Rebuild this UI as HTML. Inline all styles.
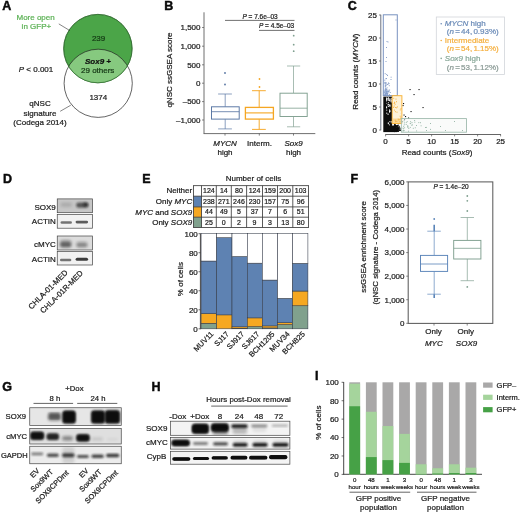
<!DOCTYPE html>
<html><head><meta charset="utf-8"><title>Figure</title>
<style>html,body{margin:0;padding:0;background:#fff}svg{display:block}text{font-family:"Liberation Sans",Arial,sans-serif}</style>
</head><body>
<svg width="520" height="513" viewBox="0 0 520 513">
<defs>
<filter id="b0" x="-20%" y="-50%" width="140%" height="200%"><feGaussianBlur stdDeviation="0.55"/></filter>
<filter id="b1" x="-20%" y="-50%" width="140%" height="200%"><feGaussianBlur stdDeviation="0.85"/></filter>
<filter id="b2" x="-30%" y="-80%" width="160%" height="260%"><feGaussianBlur stdDeviation="1.5"/></filter>
</defs>
<rect width="520" height="513" fill="#fff"/>
<text x="2.3" y="10" font-size="12.5" font-weight="bold" fill="#0a0a0a" stroke="#0a0a0a" stroke-width="0.45">A</text>
<circle cx="98.2" cy="83.3" r="34.1" fill="#fff" stroke="#222" stroke-width="0.7"/>
<circle cx="97.9" cy="48.6" r="34.2" fill="#4ba548" stroke="#2f6b2e" stroke-width="0.7"/>
<clipPath id="cA"><circle cx="97.9" cy="48.6" r="34.2"/></clipPath>
<circle cx="98.2" cy="83.3" r="34.1" fill="#86c97f" stroke="#222" stroke-width="0.7" clip-path="url(#cA)"/>
<circle cx="97.9" cy="48.6" r="34.2" fill="none" stroke="#2f6b2e" stroke-width="0.7"/>
<text x="98.6" y="40.5" font-size="8" text-anchor="middle" fill="#143a14" stroke="#143a14" stroke-width="0.22" >239</text>
<text x="98" y="63.8" font-size="8" text-anchor="middle" fill="#111" stroke="#111" stroke-width="0.22" font-weight="bold" font-style="italic">Sox9 +</text>
<text x="97.7" y="73.2" font-size="8" text-anchor="middle" fill="#143614" stroke="#143614" stroke-width="0.22" >29 others</text>
<text x="98.3" y="100" font-size="8" text-anchor="middle" fill="#1c1c1c" stroke="#1c1c1c" stroke-width="0.22" >1374</text>
<text x="35.6" y="19.7" font-size="8" text-anchor="middle" fill="#5cb255" stroke="#5cb255" stroke-width="0.22" >More open</text>
<text x="36.4" y="29.4" font-size="8" text-anchor="middle" fill="#5cb255" stroke="#5cb255" stroke-width="0.22" >in GFP+</text>
<text x="36" y="72" font-size="8" text-anchor="middle" fill="#1c1c1c" stroke="#1c1c1c" stroke-width="0.22" ><tspan font-style="italic">P</tspan> &lt; 0.001</text>
<text x="40" y="106" font-size="8" text-anchor="middle" fill="#1c1c1c" stroke="#1c1c1c" stroke-width="0.22" >qNSC</text>
<text x="40" y="115.5" font-size="8" text-anchor="middle" fill="#1c1c1c" stroke="#1c1c1c" stroke-width="0.22" >signature</text>
<text x="40" y="124.6" font-size="8" text-anchor="middle" fill="#1c1c1c" stroke="#1c1c1c" stroke-width="0.22" >(Codega 2014)</text>
<line x1="58.8" y1="23.9" x2="70" y2="30.7" stroke="#333" stroke-width="0.6" />
<line x1="60.2" y1="111.3" x2="70.8" y2="105.2" stroke="#333" stroke-width="0.6" />
<text x="164.2" y="9.7" font-size="12.5" font-weight="bold" fill="#0a0a0a" stroke="#0a0a0a" stroke-width="0.45">B</text>
<line x1="204" y1="12.3" x2="204" y2="133.6" stroke="#4a4a4a" stroke-width="0.8" />
<line x1="203.6" y1="133.6" x2="315.3" y2="133.6" stroke="#4a4a4a" stroke-width="0.8" />
<line x1="225" y1="133.6" x2="225" y2="135.6" stroke="#4a4a4a" stroke-width="0.7" />
<line x1="259.3" y1="133.6" x2="259.3" y2="135.6" stroke="#4a4a4a" stroke-width="0.7" />
<line x1="293.5" y1="133.6" x2="293.5" y2="135.6" stroke="#4a4a4a" stroke-width="0.7" />
<text x="200.5" y="30.3" font-size="8" text-anchor="end" fill="#1c1c1c" stroke="#1c1c1c" stroke-width="0.22" >1,500</text>
<line x1="202" y1="27.5" x2="204" y2="27.5" stroke="#555" stroke-width="0.7" />
<text x="200.5" y="49.0" font-size="8" text-anchor="end" fill="#1c1c1c" stroke="#1c1c1c" stroke-width="0.22" >1,000</text>
<line x1="202" y1="46.2" x2="204" y2="46.2" stroke="#555" stroke-width="0.7" />
<text x="200.5" y="67.6" font-size="8" text-anchor="end" fill="#1c1c1c" stroke="#1c1c1c" stroke-width="0.22" >500</text>
<line x1="202" y1="64.8" x2="204" y2="64.8" stroke="#555" stroke-width="0.7" />
<text x="200.5" y="86.0" font-size="8" text-anchor="end" fill="#1c1c1c" stroke="#1c1c1c" stroke-width="0.22" >0</text>
<line x1="202" y1="83.2" x2="204" y2="83.2" stroke="#555" stroke-width="0.7" />
<text x="200.5" y="104.39999999999999" font-size="8" text-anchor="end" fill="#1c1c1c" stroke="#1c1c1c" stroke-width="0.22" >–500</text>
<line x1="202" y1="101.6" x2="204" y2="101.6" stroke="#555" stroke-width="0.7" />
<text x="200.5" y="122.8" font-size="8" text-anchor="end" fill="#1c1c1c" stroke="#1c1c1c" stroke-width="0.22" >–1,000</text>
<line x1="202" y1="120" x2="204" y2="120" stroke="#555" stroke-width="0.7" />
<text x="171.5" y="70" font-size="8" text-anchor="middle" fill="#1c1c1c" stroke="#1c1c1c" stroke-width="0.22" transform="rotate(-90 171.5 70)" >qNSC ssGSEA score</text>
<line x1="225" y1="20.4" x2="294.5" y2="20.4" stroke="#333" stroke-width="0.7" />
<line x1="259" y1="30.4" x2="294.5" y2="30.4" stroke="#333" stroke-width="0.7" />
<text x="260" y="18.7" font-size="6.5" text-anchor="middle" fill="#1c1c1c" stroke="#1c1c1c" stroke-width="0.22" ><tspan font-style="italic">P</tspan> = 7.6e–03</text>
<text x="276.6" y="28.4" font-size="6.5" text-anchor="middle" fill="#1c1c1c" stroke="#1c1c1c" stroke-width="0.22" ><tspan font-style="italic">P</tspan> = 4.5e–03</text>
<line x1="225.2" y1="94" x2="225.2" y2="106.8" stroke="#5674a2" stroke-width="0.6839999999999999" />
<line x1="225.2" y1="119.1" x2="225.2" y2="128.9" stroke="#5674a2" stroke-width="0.6839999999999999" />
<line x1="218.1" y1="94" x2="231.9" y2="94" stroke="#5674a2" stroke-width="0.6839999999999999" />
<line x1="218.1" y1="128.9" x2="231.9" y2="128.9" stroke="#5674a2" stroke-width="0.6839999999999999" />
<rect x="211.50" y="106.80" width="27.70" height="12.30" fill="#fff" stroke="#5674a2" stroke-width="0.95" />
<line x1="211.5" y1="111.7" x2="239.2" y2="111.7" stroke="#5674a2" stroke-width="0.8075" />
<line x1="259.2" y1="90.7" x2="259.2" y2="107.4" stroke="#f5a623" stroke-width="0.9359999999999999" />
<line x1="259.2" y1="119.1" x2="259.2" y2="129.4" stroke="#f5a623" stroke-width="0.9359999999999999" />
<line x1="252" y1="90.7" x2="265.8" y2="90.7" stroke="#f5a623" stroke-width="0.9359999999999999" />
<line x1="252" y1="129.4" x2="265.8" y2="129.4" stroke="#f5a623" stroke-width="0.9359999999999999" />
<rect x="245.40" y="107.40" width="28.00" height="11.70" fill="#fff" stroke="#f5a623" stroke-width="1.3" />
<line x1="245.4" y1="112.9" x2="273.4" y2="112.9" stroke="#f5a623" stroke-width="1.105" />
<line x1="293.5" y1="66" x2="293.5" y2="93.2" stroke="#7f9f8f" stroke-width="0.6839999999999999" />
<line x1="293.5" y1="116.5" x2="293.5" y2="126.8" stroke="#7f9f8f" stroke-width="0.6839999999999999" />
<line x1="287" y1="66" x2="300.2" y2="66" stroke="#7f9f8f" stroke-width="0.6839999999999999" />
<line x1="287" y1="126.8" x2="300.2" y2="126.8" stroke="#7f9f8f" stroke-width="0.6839999999999999" />
<rect x="280.00" y="93.20" width="27.20" height="23.30" fill="#fff" stroke="#7f9f8f" stroke-width="0.95" />
<line x1="280" y1="108.2" x2="307.2" y2="108.2" stroke="#7f9f8f" stroke-width="0.8075" />
<circle cx="225" cy="73" r="0.9" fill="#5674a2"/>
<circle cx="225" cy="84.5" r="0.9" fill="#5674a2"/>
<circle cx="259.5" cy="79" r="0.9" fill="#f5a623"/>
<circle cx="259.5" cy="87" r="0.9" fill="#f5a623"/>
<circle cx="293.7" cy="35.7" r="0.9" fill="#7f9f8f"/>
<circle cx="293.7" cy="44.7" r="0.9" fill="#7f9f8f"/>
<circle cx="293.7" cy="51.2" r="0.9" fill="#7f9f8f"/>
<text x="225" y="145.5" font-size="8" text-anchor="middle" fill="#1c1c1c" stroke="#1c1c1c" stroke-width="0.22" ><tspan font-style="italic">MYCN</tspan></text>
<text x="225" y="154.5" font-size="8" text-anchor="middle" fill="#1c1c1c" stroke="#1c1c1c" stroke-width="0.22" >high</text>
<text x="259.5" y="145.5" font-size="8" text-anchor="middle" fill="#1c1c1c" stroke="#1c1c1c" stroke-width="0.22" >Interm.</text>
<text x="293.5" y="145.5" font-size="8" text-anchor="middle" fill="#1c1c1c" stroke="#1c1c1c" stroke-width="0.22" ><tspan font-style="italic">Sox9</tspan></text>
<text x="293.5" y="154.5" font-size="8" text-anchor="middle" fill="#1c1c1c" stroke="#1c1c1c" stroke-width="0.22" >high</text>
<text x="347.8" y="9.9" font-size="12.5" font-weight="bold" fill="#0a0a0a" stroke="#0a0a0a" stroke-width="0.45">C</text>
<line x1="380.8" y1="14.7" x2="380.8" y2="130.3" stroke="#5a6270" stroke-width="0.9" />
<line x1="385.3" y1="134.5" x2="500.9" y2="134.5" stroke="#555" stroke-width="0.9" />
<text x="377" y="132.8" font-size="8" text-anchor="end" fill="#1c1c1c" stroke="#1c1c1c" stroke-width="0.22" >0</text>
<line x1="379" y1="130.0" x2="380.8" y2="130.0" stroke="#555" stroke-width="0.7" />
<text x="385.6" y="144" font-size="8" text-anchor="middle" fill="#1c1c1c" stroke="#1c1c1c" stroke-width="0.22" >0</text>
<line x1="385.6" y1="134.5" x2="385.6" y2="136.4" stroke="#555" stroke-width="0.7" />
<text x="377" y="109.8" font-size="8" text-anchor="end" fill="#1c1c1c" stroke="#1c1c1c" stroke-width="0.22" >5</text>
<line x1="379" y1="107.0" x2="380.8" y2="107.0" stroke="#555" stroke-width="0.7" />
<text x="408.6" y="144" font-size="8" text-anchor="middle" fill="#1c1c1c" stroke="#1c1c1c" stroke-width="0.22" >5</text>
<line x1="408.6" y1="134.5" x2="408.6" y2="136.4" stroke="#555" stroke-width="0.7" />
<text x="377" y="86.8" font-size="8" text-anchor="end" fill="#1c1c1c" stroke="#1c1c1c" stroke-width="0.22" >10</text>
<line x1="379" y1="84.0" x2="380.8" y2="84.0" stroke="#555" stroke-width="0.7" />
<text x="431.6" y="144" font-size="8" text-anchor="middle" fill="#1c1c1c" stroke="#1c1c1c" stroke-width="0.22" >10</text>
<line x1="431.6" y1="134.5" x2="431.6" y2="136.4" stroke="#555" stroke-width="0.7" />
<text x="377" y="63.8" font-size="8" text-anchor="end" fill="#1c1c1c" stroke="#1c1c1c" stroke-width="0.22" >15</text>
<line x1="379" y1="61.0" x2="380.8" y2="61.0" stroke="#555" stroke-width="0.7" />
<text x="454.6" y="144" font-size="8" text-anchor="middle" fill="#1c1c1c" stroke="#1c1c1c" stroke-width="0.22" >15</text>
<line x1="454.6" y1="134.5" x2="454.6" y2="136.4" stroke="#555" stroke-width="0.7" />
<text x="377" y="40.8" font-size="8" text-anchor="end" fill="#1c1c1c" stroke="#1c1c1c" stroke-width="0.22" >20</text>
<line x1="379" y1="38.0" x2="380.8" y2="38.0" stroke="#555" stroke-width="0.7" />
<text x="477.6" y="144" font-size="8" text-anchor="middle" fill="#1c1c1c" stroke="#1c1c1c" stroke-width="0.22" >20</text>
<line x1="477.6" y1="134.5" x2="477.6" y2="136.4" stroke="#555" stroke-width="0.7" />
<text x="377" y="17.800000000000015" font-size="8" text-anchor="end" fill="#1c1c1c" stroke="#1c1c1c" stroke-width="0.22" >25</text>
<line x1="379" y1="15.000000000000014" x2="380.8" y2="15.000000000000014" stroke="#555" stroke-width="0.7" />
<text x="500.6" y="144" font-size="8" text-anchor="middle" fill="#1c1c1c" stroke="#1c1c1c" stroke-width="0.22" >25</text>
<line x1="500.6" y1="134.5" x2="500.6" y2="136.4" stroke="#555" stroke-width="0.7" />
<text x="358.2" y="71.6" font-size="8" text-anchor="middle" fill="#1c1c1c" stroke="#1c1c1c" stroke-width="0.22" transform="rotate(-90 358.2 71.6)" >Read counts (<tspan font-style="italic">MYCN</tspan>)</text>
<text x="437" y="154.6" font-size="8" text-anchor="middle" fill="#1c1c1c" stroke="#1c1c1c" stroke-width="0.22" >Read counts (<tspan font-style="italic">Sox9</tspan>)</text>
<g fill="#0d0d0d">
<rect x="383.30" y="96.60" width="8.80" height="35.50" fill="#0d0d0d" stroke="none" stroke-width="0.8" />
<rect x="392.8" y="129.1" width="1.2" height="1.2"/>
<rect x="392.7" y="129.8" width="1.2" height="1.2"/>
<rect x="395.1" y="130.1" width="1.2" height="1.2"/>
<rect x="395.7" y="129.4" width="1.2" height="1.2"/>
<rect x="395.4" y="130.0" width="1.2" height="1.2"/>
<rect x="393.3" y="130.2" width="1.2" height="1.2"/>
<rect x="397.5" y="127.8" width="1.2" height="1.2"/>
<rect x="393.7" y="129.1" width="1.2" height="1.2"/>
<rect x="397.6" y="124.6" width="1.2" height="1.2"/>
<rect x="394.9" y="129.2" width="1.2" height="1.2"/>
<rect x="393.0" y="130.7" width="1.2" height="1.2"/>
<rect x="393.7" y="128.6" width="1.2" height="1.2"/>
<rect x="393.0" y="129.5" width="1.2" height="1.2"/>
<rect x="394.2" y="124.7" width="1.2" height="1.2"/>
<rect x="393.8" y="126.6" width="1.2" height="1.2"/>
<rect x="394.0" y="128.2" width="1.2" height="1.2"/>
<rect x="393.1" y="130.5" width="1.2" height="1.2"/>
<rect x="394.1" y="130.0" width="1.2" height="1.2"/>
<rect x="393.5" y="127.5" width="1.2" height="1.2"/>
<rect x="393.7" y="126.5" width="1.2" height="1.2"/>
<rect x="394.7" y="130.0" width="1.2" height="1.2"/>
<rect x="393.4" y="125.5" width="1.2" height="1.2"/>
<rect x="392.2" y="126.2" width="1.2" height="1.2"/>
<rect x="398.6" y="129.7" width="1.2" height="1.2"/>
<rect x="392.4" y="128.0" width="1.2" height="1.2"/>
<rect x="393.6" y="130.7" width="1.2" height="1.2"/>
<rect x="396.8" y="127.9" width="1.2" height="1.2"/>
<rect x="394.2" y="127.5" width="1.2" height="1.2"/>
<rect x="396.8" y="129.6" width="1.2" height="1.2"/>
<rect x="392.4" y="126.2" width="1.2" height="1.2"/>
<rect x="394.0" y="128.7" width="1.2" height="1.2"/>
<rect x="393.5" y="126.3" width="1.2" height="1.2"/>
<rect x="395.2" y="129.0" width="1.2" height="1.2"/>
<rect x="396.8" y="130.0" width="1.2" height="1.2"/>
<rect x="396.8" y="128.8" width="1.2" height="1.2"/>
<rect x="393.2" y="128.2" width="1.2" height="1.2"/>
<rect x="395.7" y="127.4" width="1.2" height="1.2"/>
<rect x="395.6" y="130.3" width="1.2" height="1.2"/>
<rect x="392.8" y="129.3" width="1.2" height="1.2"/>
<rect x="397.3" y="128.7" width="1.2" height="1.2"/>
<rect x="393.7" y="128.9" width="1.2" height="1.2"/>
<rect x="397.2" y="126.3" width="1.2" height="1.2"/>
<rect x="395.2" y="129.0" width="1.2" height="1.2"/>
<rect x="398.5" y="128.6" width="1.2" height="1.2"/>
<rect x="394.8" y="124.4" width="1.2" height="1.2"/>
<rect x="392.6" y="127.2" width="1.2" height="1.2"/>
<rect x="396.3" y="125.1" width="1.2" height="1.2"/>
<rect x="393.8" y="130.4" width="1.2" height="1.2"/>
<rect x="393.1" y="128.6" width="1.2" height="1.2"/>
<rect x="392.4" y="126.8" width="1.2" height="1.2"/>
<rect x="394.2" y="129.4" width="1.2" height="1.2"/>
<rect x="395.4" y="130.8" width="1.2" height="1.2"/>
<rect x="394.9" y="127.5" width="1.2" height="1.2"/>
<rect x="396.8" y="129.3" width="1.2" height="1.2"/>
<rect x="396.6" y="130.4" width="1.2" height="1.2"/>
<rect x="392.5" y="129.8" width="1.2" height="1.2"/>
<rect x="396.6" y="127.2" width="1.2" height="1.2"/>
<rect x="396.2" y="126.3" width="1.2" height="1.2"/>
<rect x="394.6" y="128.6" width="1.2" height="1.2"/>
<rect x="395.7" y="127.8" width="1.2" height="1.2"/>
<rect x="393.1" y="130.4" width="1.2" height="1.2"/>
<rect x="392.5" y="128.8" width="1.2" height="1.2"/>
<rect x="392.6" y="129.9" width="1.2" height="1.2"/>
<rect x="393.9" y="130.9" width="1.2" height="1.2"/>
<rect x="394.5" y="128.9" width="1.2" height="1.2"/>
<rect x="398.6" y="129.7" width="1.2" height="1.2"/>
<rect x="393.4" y="129.6" width="1.2" height="1.2"/>
<rect x="392.0" y="127.6" width="1.2" height="1.2"/>
<rect x="393.1" y="129.5" width="1.2" height="1.2"/>
<rect x="395.7" y="130.0" width="1.2" height="1.2"/>
<rect x="393.3" y="130.0" width="1.2" height="1.2"/>
<rect x="393.4" y="128.5" width="1.2" height="1.2"/>
<rect x="392.9" y="129.0" width="1.2" height="1.2"/>
<rect x="393.8" y="130.5" width="1.2" height="1.2"/>
<rect x="392.7" y="130.7" width="1.2" height="1.2"/>
<rect x="395.3" y="126.7" width="1.2" height="1.2"/>
<rect x="392.2" y="127.5" width="1.2" height="1.2"/>
<rect x="394.8" y="125.5" width="1.2" height="1.2"/>
<rect x="397.6" y="129.6" width="1.2" height="1.2"/>
<rect x="393.1" y="128.7" width="1.2" height="1.2"/>
<rect x="395.6" y="125.7" width="1.2" height="1.2"/>
<rect x="394.3" y="125.5" width="1.2" height="1.2"/>
<rect x="392.6" y="126.6" width="1.2" height="1.2"/>
<rect x="392.5" y="130.2" width="1.2" height="1.2"/>
<rect x="394.6" y="130.4" width="1.2" height="1.2"/>
<rect x="392.3" y="125.4" width="1.2" height="1.2"/>
<rect x="395.5" y="129.8" width="1.2" height="1.2"/>
<rect x="395.0" y="129.9" width="1.2" height="1.2"/>
<rect x="392.4" y="128.4" width="1.2" height="1.2"/>
<rect x="392.7" y="128.6" width="1.2" height="1.2"/>
<rect x="397.0" y="125.5" width="1.2" height="1.2"/>
<rect x="394.0" y="127.4" width="1.2" height="1.2"/>
<rect x="395.4" y="125.6" width="1.2" height="1.2"/>
<rect x="396.2" y="128.2" width="1.2" height="1.2"/>
<rect x="396.9" y="127.5" width="1.2" height="1.2"/>
<rect x="392.0" y="126.8" width="1.2" height="1.2"/>
<rect x="394.5" y="125.2" width="1.2" height="1.2"/>
<rect x="394.9" y="125.3" width="1.2" height="1.2"/>
<rect x="395.3" y="130.3" width="1.2" height="1.2"/>
<rect x="398.5" y="125.8" width="1.2" height="1.2"/>
<rect x="392.3" y="128.7" width="1.2" height="1.2"/>
<rect x="393.3" y="129.4" width="1.2" height="1.2"/>
<rect x="396.9" y="127.2" width="1.2" height="1.2"/>
<rect x="395.7" y="125.5" width="1.2" height="1.2"/>
<rect x="396.8" y="130.2" width="1.2" height="1.2"/>
<rect x="394.5" y="127.2" width="1.2" height="1.2"/>
<rect x="392.4" y="130.5" width="1.2" height="1.2"/>
<rect x="396.7" y="130.0" width="1.2" height="1.2"/>
<rect x="399.6" y="129.5" width="1.2" height="1.2"/>
<rect x="398.1" y="128.0" width="1.2" height="1.2"/>
<rect x="393.0" y="128.7" width="1.2" height="1.2"/>
<rect x="392.0" y="127.9" width="1.2" height="1.2"/>
<rect x="392.3" y="126.1" width="1.2" height="1.2"/>
<rect x="392.2" y="127.2" width="1.2" height="1.2"/>
<rect x="396.9" y="125.1" width="1.2" height="1.2"/>
<rect x="394.2" y="127.7" width="1.2" height="1.2"/>
<rect x="398.2" y="127.0" width="1.2" height="1.2"/>
<rect x="398.5" y="127.1" width="1.2" height="1.2"/>
<rect x="396.1" y="130.9" width="1.2" height="1.2"/>
<rect x="392.6" y="130.8" width="1.2" height="1.2"/>
<rect x="394.0" y="130.1" width="1.2" height="1.2"/>
<rect x="397.9" y="130.7" width="1.2" height="1.2"/>
<rect x="393.8" y="127.3" width="1.2" height="1.2"/>
<rect x="392.7" y="126.4" width="1.2" height="1.2"/>
<rect x="393.8" y="127.0" width="1.2" height="1.2"/>
<rect x="397.4" y="128.7" width="1.2" height="1.2"/>
<rect x="395.3" y="128.0" width="1.2" height="1.2"/>
<rect x="392.0" y="128.0" width="1.2" height="1.2"/>
<rect x="392.5" y="126.7" width="1.2" height="1.2"/>
<rect x="397.2" y="128.6" width="1.2" height="1.2"/>
<rect x="395.0" y="128.9" width="1.2" height="1.2"/>
<rect x="395.0" y="128.1" width="1.2" height="1.2"/>
<rect x="397.1" y="130.5" width="1.2" height="1.2"/>
<rect x="395.9" y="129.6" width="1.2" height="1.2"/>
<rect x="399.8" y="129.7" width="1.2" height="1.2"/>
<rect x="394.1" y="123.9" width="1.2" height="1.2"/>
<rect x="394.4" y="129.9" width="1.2" height="1.2"/>
<rect x="399.4" y="127.7" width="1.2" height="1.2"/>
<rect x="393.0" y="129.2" width="1.2" height="1.2"/>
<rect x="394.6" y="128.2" width="1.2" height="1.2"/>
<rect x="394.2" y="129.7" width="1.2" height="1.2"/>
<rect x="396.4" y="128.5" width="1.2" height="1.2"/>
<rect x="392.00" y="126.50" width="4.20" height="5.60" fill="#0d0d0d" stroke="none" stroke-width="0.8" />
<rect x="403" y="103" width="1.1" height="1.1"/>
<rect x="409.5" y="89" width="1.1" height="1.1"/>
<rect x="418.5" y="89" width="1.1" height="1.1"/>
<rect x="413.5" y="94" width="1.1" height="1.1"/>
<rect x="422.5" y="107" width="1.1" height="1.1"/>
<rect x="410.5" y="111" width="1.1" height="1.1"/>
<rect x="405" y="116" width="1.1" height="1.1"/>
<rect x="400" y="113" width="1.1" height="1.1"/>
<rect x="401.5" y="121" width="1.1" height="1.1"/>
<rect x="404" y="119" width="1.1" height="1.1"/>
<rect x="402.5" y="105" width="1.1" height="1.1"/>
<rect x="408" y="117.5" width="1.1" height="1.1"/>
<rect x="400.5" y="116.5" width="1.1" height="1.1"/>
<rect x="403.5" y="114.5" width="1.1" height="1.1"/>
</g>
<g fill="#fff">
<rect x="388.0" y="104.1" width="0.9" height="0.9"/>
<rect x="388.0" y="106.0" width="0.9" height="0.9"/>
<rect x="387.7" y="99.9" width="0.9" height="1.0"/>
<rect x="390.6" y="100.5" width="0.9" height="1.3"/>
<rect x="386.1" y="106.9" width="0.9" height="1.1"/>
<rect x="386.2" y="107.0" width="0.9" height="1.5"/>
<rect x="386.4" y="98.1" width="0.9" height="1.3"/>
<rect x="386.0" y="100.6" width="0.9" height="0.8"/>
<rect x="387.9" y="122.8" width="0.9" height="1.4"/>
<rect x="389.3" y="111.1" width="0.9" height="1.1"/>
<rect x="389.1" y="100.3" width="0.9" height="0.7"/>
<rect x="387.8" y="122.4" width="0.9" height="1.2"/>
<rect x="389.1" y="109.4" width="0.9" height="1.4"/>
<rect x="386.1" y="98.3" width="0.9" height="1.5"/>
<rect x="390.9" y="98.3" width="0.9" height="0.9"/>
<rect x="387.6" y="104.1" width="0.9" height="1.5"/>
<rect x="389.1" y="124.4" width="0.9" height="0.9"/>
<rect x="389.4" y="105.0" width="0.9" height="1.1"/>
<rect x="387.7" y="98.6" width="0.9" height="1.3"/>
<rect x="389.1" y="111.1" width="0.9" height="1.5"/>
<rect x="390.6" y="98.6" width="0.9" height="1.1"/>
<rect x="390.8" y="121.1" width="0.9" height="1.5"/>
<rect x="389.4" y="104.2" width="0.9" height="1.5"/>
<rect x="389.2" y="111.3" width="0.9" height="0.8"/>
<rect x="389.5" y="110.1" width="0.9" height="1.4"/>
<rect x="386.0" y="97.5" width="0.9" height="0.8"/>
<rect x="386.3" y="106.2" width="0.9" height="1.0"/>
<rect x="389.3" y="98.3" width="0.9" height="0.8"/>
<rect x="389.3" y="100.4" width="0.9" height="0.9"/>
<rect x="389.5" y="105.6" width="0.9" height="1.5"/>
<rect x="389.2" y="99.6" width="0.9" height="0.8"/>
<rect x="389.3" y="111.0" width="0.9" height="0.9"/>
<rect x="386.0" y="99.3" width="0.9" height="1.4"/>
<rect x="387.8" y="99.5" width="0.9" height="0.9"/>
<rect x="387.6" y="97.7" width="0.9" height="1.5"/>
<rect x="387.9" y="102.2" width="0.9" height="1.0"/>
<rect x="389.4" y="121.1" width="0.9" height="1.1"/>
<rect x="389.4" y="99.2" width="0.9" height="1.4"/>
<rect x="390.8" y="99.8" width="0.9" height="1.3"/>
<rect x="388.0" y="97.3" width="0.9" height="1.4"/>
<rect x="386.3" y="112.6" width="0.9" height="1.2"/>
<rect x="387.6" y="113.5" width="0.9" height="1.5"/>
<rect x="390.8" y="101.4" width="0.9" height="1.1"/>
<rect x="386.3" y="102.9" width="0.9" height="0.7"/>
<rect x="386.3" y="109.6" width="0.9" height="1.1"/>
</g>
<rect x="383.60" y="90.50" width="4.60" height="5.00" fill="#a9c0e6" stroke="none" stroke-width="0" opacity="0.85"/>
<g fill="#7892c0" opacity="0.85">
<rect x="387.4" y="92.4" width="1" height="1"/>
<rect x="387.6" y="89.7" width="1" height="1"/>
<rect x="384.3" y="91.9" width="1" height="1"/>
<rect x="384.6" y="82.1" width="1" height="1"/>
<rect x="385.3" y="82.4" width="1" height="1"/>
<rect x="386.8" y="93.6" width="1" height="1"/>
<rect x="386.2" y="88.9" width="1" height="1"/>
<rect x="385.8" y="82.5" width="1" height="1"/>
<rect x="386.6" y="87.3" width="1" height="1"/>
<rect x="385.4" y="92.9" width="1" height="1"/>
<rect x="384.4" y="81.8" width="1" height="1"/>
<rect x="385.3" y="85.2" width="1" height="1"/>
<rect x="385.1" y="94.8" width="1" height="1"/>
<rect x="384.7" y="83.1" width="1" height="1"/>
<rect x="385.5" y="83.8" width="1" height="1"/>
<rect x="385.0" y="85.7" width="1" height="1"/>
<rect x="386.7" y="93.0" width="1" height="1"/>
<rect x="387.7" y="83.5" width="1" height="1"/>
<rect x="386.2" y="74.0" width="1" height="1"/>
<rect x="384.7" y="94.4" width="1" height="1"/>
<rect x="388.2" y="91.2" width="1" height="1"/>
<rect x="386.7" y="93.3" width="1" height="1"/>
<rect x="384.5" y="89.5" width="1" height="1"/>
<rect x="385.7" y="93.2" width="1" height="1"/>
<rect x="385.4" y="92.8" width="1" height="1"/>
<rect x="389.7" y="92.0" width="1" height="1"/>
<rect x="387.0" y="84.0" width="1" height="1"/>
<rect x="388.9" y="94.1" width="1" height="1"/>
<rect x="384.8" y="89.4" width="1" height="1"/>
<rect x="386.3" y="89.5" width="1" height="1"/>
<rect x="384.5" y="94.9" width="1" height="1"/>
<rect x="386.7" y="94.5" width="1" height="1"/>
<rect x="384.7" y="90.8" width="1" height="1"/>
<rect x="385.4" y="89.2" width="1" height="1"/>
<rect x="384.4" y="94.6" width="1" height="1"/>
<rect x="384.3" y="79.7" width="1" height="1"/>
<rect x="388.0" y="82.5" width="1" height="1"/>
<rect x="385.4" y="78.2" width="1" height="1"/>
<rect x="384.8" y="87.5" width="1" height="1"/>
<rect x="390.6" y="76.7" width="1" height="1"/>
<rect x="386.1" y="91.0" width="1" height="1"/>
<rect x="385.9" y="92.2" width="1" height="1"/>
<rect x="385.3" y="93.9" width="1" height="1"/>
<rect x="385.2" y="89.3" width="1" height="1"/>
<rect x="385.8" y="92.6" width="1" height="1"/>
<rect x="384.6" y="85.5" width="1" height="1"/>
<rect x="385.1" y="87.8" width="1" height="1"/>
<rect x="388.7" y="90.5" width="1" height="1"/>
<rect x="385.5" y="84.6" width="1" height="1"/>
<rect x="388.8" y="85.2" width="1" height="1"/>
<rect x="387.6" y="91.1" width="1" height="1"/>
<rect x="387.7" y="91.0" width="1" height="1"/>
<rect x="387.8" y="90.9" width="1" height="1"/>
<rect x="385.4" y="89.8" width="1" height="1"/>
<rect x="389.1" y="89.5" width="1" height="1"/>
<rect x="386.0" y="88.5" width="1" height="1"/>
<rect x="385.3" y="89.4" width="1" height="1"/>
<rect x="384.7" y="73.2" width="1" height="1"/>
<rect x="384.5" y="83.3" width="1" height="1"/>
<rect x="385.2" y="85.3" width="1" height="1"/>
<rect x="395.5" y="19.5" width="1" height="1"/>
<rect x="386.5" y="41" width="1" height="1"/>
<rect x="387.5" y="41.5" width="1" height="1"/>
<rect x="386" y="47" width="1" height="1"/>
<rect x="386" y="57" width="1" height="1"/>
<rect x="385.5" y="61" width="1" height="1"/>
<rect x="390.5" y="79" width="1" height="1"/>
<rect x="387" y="75" width="1" height="1"/>
<rect x="386" y="78" width="1" height="1"/>
<rect x="388.5" y="83" width="1" height="1"/>
</g>
<rect x="383.30" y="14.80" width="14.00" height="80.80" fill="none" stroke="#7892c0" stroke-width="1.0" />
<rect x="392.20" y="95.70" width="9.70" height="27.80" fill="#fef2d9" stroke="#f8b236" stroke-width="0.95" fill-opacity="0.96"/>
<rect x="392.70" y="118.50" width="8.70" height="4.60" fill="#f9c566" stroke="none" stroke-width="0" opacity="0.55"/>
<g fill="#f5a623" opacity="0.8">
<rect x="396.0" y="101.2" width="1" height="1"/>
<rect x="394.2" y="102.2" width="1" height="1"/>
<rect x="399.8" y="109.4" width="1" height="1"/>
<rect x="394.7" y="119.7" width="1" height="1"/>
<rect x="400.5" y="108.2" width="1" height="1"/>
<rect x="394.0" y="101.8" width="1" height="1"/>
<rect x="393.7" y="105.5" width="1" height="1"/>
<rect x="393.7" y="103.0" width="1" height="1"/>
<rect x="394.9" y="111.2" width="1" height="1"/>
<rect x="399.7" y="115.7" width="1" height="1"/>
<rect x="396.1" y="107.3" width="1" height="1"/>
<rect x="396.9" y="106.4" width="1" height="1"/>
<rect x="395.5" y="98.6" width="1" height="1"/>
<rect x="395.1" y="121.2" width="1" height="1"/>
<rect x="393.9" y="109.6" width="1" height="1"/>
<rect x="397.7" y="118.6" width="1" height="1"/>
<rect x="394.6" y="103.8" width="1" height="1"/>
<rect x="394.9" y="107.0" width="1" height="1"/>
<rect x="396.3" y="120.8" width="1" height="1"/>
<rect x="399.4" y="118.8" width="1" height="1"/>
<rect x="393.2" y="97.8" width="1" height="1"/>
<rect x="398.3" y="119.4" width="1" height="1"/>
<rect x="396.5" y="111.7" width="1" height="1"/>
<rect x="393.0" y="106.8" width="1" height="1"/>
<rect x="400.0" y="117.6" width="1" height="1"/>
<rect x="399.4" y="121.3" width="1" height="1"/>
</g>
<rect x="401.30" y="118.60" width="65.20" height="13.60" fill="#f6f9f7" stroke="#9ab7aa" stroke-width="0.85" fill-opacity="0.6"/>
<g fill="#8fb0a0" opacity="0.85">
<rect x="402.1" y="121.3" width="1" height="1"/>
<rect x="407.3" y="125.5" width="1" height="1"/>
<rect x="412.8" y="127.8" width="1" height="1"/>
<rect x="425.9" y="126.9" width="1" height="1"/>
<rect x="403.1" y="125.8" width="1" height="1"/>
<rect x="414.1" y="120.0" width="1" height="1"/>
<rect x="403.6" y="130.1" width="1" height="1"/>
<rect x="409.8" y="126.9" width="1" height="1"/>
<rect x="403.9" y="122.4" width="1" height="1"/>
<rect x="407.4" y="126.8" width="1" height="1"/>
<rect x="403.7" y="120.3" width="1" height="1"/>
<rect x="407.1" y="125.5" width="1" height="1"/>
<rect x="411.5" y="122.1" width="1" height="1"/>
<rect x="407.4" y="126.4" width="1" height="1"/>
<rect x="411.3" y="124.8" width="1" height="1"/>
<rect x="402.6" y="130.5" width="1" height="1"/>
<rect x="416.0" y="125.0" width="1" height="1"/>
<rect x="420.0" y="122.2" width="1" height="1"/>
<rect x="402.5" y="127.6" width="1" height="1"/>
<rect x="430.0" y="123.0" width="1" height="1"/>
<rect x="414.8" y="127.3" width="1" height="1"/>
<rect x="403.8" y="124.3" width="1" height="1"/>
<rect x="402.7" y="130.1" width="1" height="1"/>
<rect x="418.3" y="122.1" width="1" height="1"/>
<rect x="411.8" y="124.3" width="1" height="1"/>
<rect x="404.1" y="127.3" width="1" height="1"/>
<rect x="408.3" y="128.0" width="1" height="1"/>
<rect x="420.6" y="125.3" width="1" height="1"/>
<rect x="410.1" y="123.1" width="1" height="1"/>
<rect x="430.0" y="128.9" width="1" height="1"/>
<rect x="402.9" y="128.2" width="1" height="1"/>
<rect x="409.7" y="122.9" width="1" height="1"/>
<rect x="414.3" y="121.7" width="1" height="1"/>
<rect x="405.8" y="122.1" width="1" height="1"/>
<rect x="416.1" y="130.4" width="1" height="1"/>
<rect x="410.1" y="121.2" width="1" height="1"/>
<rect x="408.0" y="130.7" width="1" height="1"/>
<rect x="406.7" y="121.1" width="1" height="1"/>
<rect x="405.7" y="124.0" width="1" height="1"/>
<rect x="403.2" y="129.8" width="1" height="1"/>
<rect x="454" y="121" width="1" height="1"/>
<rect x="440" y="126" width="1" height="1"/>
<rect x="445" y="130" width="1" height="1"/>
<rect x="462" y="130" width="1" height="1"/>
<rect x="425" y="127" width="1" height="1"/>
<rect x="426" y="130" width="1" height="1"/>
</g>
<rect x="436.30" y="17.00" width="68.20" height="57.50" fill="#fff" stroke="#d2d5da" stroke-width="0.8" />
<circle cx="441.2" cy="23.8" r="0.8" fill="#6c8cb8"/>
<text x="444.8" y="26" font-size="8" text-anchor="start" fill="#6c8cb8" stroke="#6c8cb8" stroke-width="0.22" ><tspan font-style="italic">MYCN</tspan> high</text>
<text x="446.8" y="33.5" font-size="8" text-anchor="start" fill="#6c8cb8" stroke="#6c8cb8" stroke-width="0.22" word-spacing="-1">(<tspan font-style="italic">n</tspan> = 44, 0.93%)</text>
<circle cx="441.2" cy="40.5" r="0.8" fill="#f5b041"/>
<text x="444.8" y="42.7" font-size="8" text-anchor="start" fill="#f5b041" stroke="#f5b041" stroke-width="0.22" >Intermediate</text>
<text x="446.8" y="50.5" font-size="8" text-anchor="start" fill="#f5b041" stroke="#f5b041" stroke-width="0.22" word-spacing="-1">(<tspan font-style="italic">n</tspan> = 54, 1.15%)</text>
<circle cx="441.2" cy="58.4" r="0.8" fill="#8aa99a"/>
<text x="444.8" y="60.6" font-size="8" text-anchor="start" fill="#8aa99a" stroke="#8aa99a" stroke-width="0.22" ><tspan font-style="italic">Sox9</tspan> high</text>
<text x="446.8" y="69.9" font-size="8" text-anchor="start" fill="#8a9a95" stroke="#8a9a95" stroke-width="0.22" word-spacing="-1">(<tspan font-style="italic">n</tspan> = 53, 1.12%)</text>
<text x="2.9" y="183" font-size="12.5" font-weight="bold" fill="#0a0a0a" stroke="#0a0a0a" stroke-width="0.45">D</text>
<clipPath id="cD1"><rect x="57.25" y="198.9" width="35.25" height="13.80"/></clipPath>
<rect x="57.25" y="198.90" width="35.25" height="13.80" fill="#c6c6c6" stroke="none" stroke-width="0.8" />
<g clip-path="url(#cD1)">
<rect x="60.5" y="202.8" width="11.5" height="4.0" rx="2.0" fill="#111" opacity="0.15" filter="url(#b2)"/>
<rect x="76.2" y="202.4" width="12.1" height="5.4" rx="2.5" fill="#111" opacity="0.6" filter="url(#b1)"/>
<rect x="83.0" y="202.6" width="5.2" height="3.8" rx="1.9" fill="#111" opacity="0.5" filter="url(#b1)"/>
</g>
<rect x="57.25" y="198.90" width="35.25" height="13.80" fill="none" stroke="#444" stroke-width="0.7" />
<clipPath id="cD2"><rect x="57.25" y="214.5" width="35.25" height="13.70"/></clipPath>
<rect x="57.25" y="214.50" width="35.25" height="13.70" fill="#f1f1f1" stroke="none" stroke-width="0.8" />
<g clip-path="url(#cD2)">
<rect x="60.6" y="221.3" width="11.3" height="2.4" rx="1.2" fill="#111" opacity="0.55" filter="url(#b0)"/>
<rect x="75.6" y="220.7" width="12.5" height="2.7" rx="1.4" fill="#111" opacity="0.65" filter="url(#b0)"/>
</g>
<rect x="57.25" y="214.50" width="35.25" height="13.70" fill="none" stroke="#444" stroke-width="0.7" />
<clipPath id="cD3"><rect x="57.25" y="236" width="35.25" height="14.00"/></clipPath>
<rect x="57.25" y="236.00" width="35.25" height="14.00" fill="#dcdcdc" stroke="none" stroke-width="0.8" />
<g clip-path="url(#cD3)">
<rect x="60.0" y="240.6" width="11.3" height="6.6" rx="2.5" fill="#111" opacity="0.5" filter="url(#b2)"/>
<rect x="60.5" y="243.8" width="10.5" height="3.0" rx="1.5" fill="#111" opacity="0.25" filter="url(#b1)"/>
<rect x="76.3" y="242.0" width="11.2" height="5.2" rx="2.5" fill="#111" opacity="0.36" filter="url(#b2)"/>
<rect x="76.8" y="244.5" width="10.2" height="2.3" rx="1.2" fill="#111" opacity="0.12" filter="url(#b1)"/>
</g>
<rect x="57.25" y="236.00" width="35.25" height="14.00" fill="none" stroke="#444" stroke-width="0.7" />
<clipPath id="cD4"><rect x="57.25" y="251.5" width="35.25" height="13.50"/></clipPath>
<rect x="57.25" y="251.50" width="35.25" height="13.50" fill="#f1f1f1" stroke="none" stroke-width="0.8" />
<g clip-path="url(#cD4)">
<rect x="60.0" y="258.7" width="11.3" height="2.5" rx="1.2" fill="#111" opacity="0.55" filter="url(#b0)"/>
<rect x="75.6" y="257.7" width="12.5" height="3.1" rx="1.6" fill="#111" opacity="0.8" filter="url(#b0)"/>
</g>
<rect x="57.25" y="251.50" width="35.25" height="13.50" fill="none" stroke="#444" stroke-width="0.7" />
<text x="55.8" y="209.8" font-size="8" text-anchor="end" fill="#1c1c1c" stroke="#1c1c1c" stroke-width="0.22" >SOX9</text>
<text x="55.8" y="223.9" font-size="8" text-anchor="end" fill="#1c1c1c" stroke="#1c1c1c" stroke-width="0.22" >ACTIN</text>
<text x="55.8" y="247" font-size="8" text-anchor="end" fill="#1c1c1c" stroke="#1c1c1c" stroke-width="0.22" >cMYC</text>
<text x="55.8" y="261.9" font-size="8" text-anchor="end" fill="#1c1c1c" stroke="#1c1c1c" stroke-width="0.22" >ACTIN</text>
<text x="68.3" y="273" font-size="7.8" text-anchor="end" fill="#1c1c1c" stroke="#1c1c1c" stroke-width="0.22" transform="rotate(-45 68.3 273)" >CHLA-01-MED</text>
<text x="83.5" y="273.7" font-size="7.7" text-anchor="end" fill="#1c1c1c" stroke="#1c1c1c" stroke-width="0.22" transform="rotate(-45 83.5 273.7)" >CHLA-01R-MED</text>
<text x="142.3" y="182.9" font-size="12.5" font-weight="bold" fill="#0a0a0a" stroke="#0a0a0a" stroke-width="0.45">E</text>
<text x="253.5" y="181.2" font-size="8" text-anchor="middle" fill="#1c1c1c" stroke="#1c1c1c" stroke-width="0.22" >Number of cells</text>
<text x="192.2" y="193.2" font-size="8" text-anchor="end" fill="#1c1c1c" stroke="#1c1c1c" stroke-width="0.22" >Neither</text>
<rect x="193.50" y="185.60" width="8.00" height="10.60" fill="#fff" stroke="none" stroke-width="0.8" />
<text x="208.9" y="193.4" font-size="7" text-anchor="middle" fill="#1c1c1c" stroke="#1c1c1c" stroke-width="0.22" >124</text>
<text x="223.8" y="193.4" font-size="7" text-anchor="middle" fill="#1c1c1c" stroke="#1c1c1c" stroke-width="0.22" >14</text>
<text x="238.95" y="193.4" font-size="7" text-anchor="middle" fill="#1c1c1c" stroke="#1c1c1c" stroke-width="0.22" >80</text>
<text x="254.55" y="193.4" font-size="7" text-anchor="middle" fill="#1c1c1c" stroke="#1c1c1c" stroke-width="0.22" >124</text>
<text x="270.0" y="193.4" font-size="7" text-anchor="middle" fill="#1c1c1c" stroke="#1c1c1c" stroke-width="0.22" >159</text>
<text x="285.15" y="193.4" font-size="7" text-anchor="middle" fill="#1c1c1c" stroke="#1c1c1c" stroke-width="0.22" >200</text>
<text x="300.65" y="193.4" font-size="7" text-anchor="middle" fill="#1c1c1c" stroke="#1c1c1c" stroke-width="0.22" >103</text>
<text x="192.2" y="204" font-size="8" text-anchor="end" fill="#1c1c1c" stroke="#1c1c1c" stroke-width="0.22" >Only <tspan font-style="italic">MYC</tspan></text>
<rect x="193.50" y="196.20" width="8.00" height="10.70" fill="#5e82b2" stroke="none" stroke-width="0.8" />
<text x="208.9" y="203.9" font-size="7" text-anchor="middle" fill="#1c1c1c" stroke="#1c1c1c" stroke-width="0.22" >238</text>
<text x="223.8" y="203.9" font-size="7" text-anchor="middle" fill="#1c1c1c" stroke="#1c1c1c" stroke-width="0.22" >271</text>
<text x="238.95" y="203.9" font-size="7" text-anchor="middle" fill="#1c1c1c" stroke="#1c1c1c" stroke-width="0.22" >246</text>
<text x="254.55" y="203.9" font-size="7" text-anchor="middle" fill="#1c1c1c" stroke="#1c1c1c" stroke-width="0.22" >230</text>
<text x="270.0" y="203.9" font-size="7" text-anchor="middle" fill="#1c1c1c" stroke="#1c1c1c" stroke-width="0.22" >157</text>
<text x="285.15" y="203.9" font-size="7" text-anchor="middle" fill="#1c1c1c" stroke="#1c1c1c" stroke-width="0.22" >75</text>
<text x="300.65" y="203.9" font-size="7" text-anchor="middle" fill="#1c1c1c" stroke="#1c1c1c" stroke-width="0.22" >96</text>
<text x="192.2" y="214.5" font-size="8" text-anchor="end" fill="#1c1c1c" stroke="#1c1c1c" stroke-width="0.22" ><tspan font-style="italic">MYC</tspan> and <tspan font-style="italic">SOX9</tspan></text>
<rect x="193.50" y="206.90" width="8.00" height="10.30" fill="#f6a821" stroke="none" stroke-width="0.8" />
<text x="208.9" y="214.3" font-size="7" text-anchor="middle" fill="#1c1c1c" stroke="#1c1c1c" stroke-width="0.22" >44</text>
<text x="223.8" y="214.3" font-size="7" text-anchor="middle" fill="#1c1c1c" stroke="#1c1c1c" stroke-width="0.22" >49</text>
<text x="238.95" y="214.3" font-size="7" text-anchor="middle" fill="#1c1c1c" stroke="#1c1c1c" stroke-width="0.22" >5</text>
<text x="254.55" y="214.3" font-size="7" text-anchor="middle" fill="#1c1c1c" stroke="#1c1c1c" stroke-width="0.22" >37</text>
<text x="270.0" y="214.3" font-size="7" text-anchor="middle" fill="#1c1c1c" stroke="#1c1c1c" stroke-width="0.22" >7</text>
<text x="285.15" y="214.3" font-size="7" text-anchor="middle" fill="#1c1c1c" stroke="#1c1c1c" stroke-width="0.22" >6</text>
<text x="300.65" y="214.3" font-size="7" text-anchor="middle" fill="#1c1c1c" stroke="#1c1c1c" stroke-width="0.22" >51</text>
<text x="192.2" y="224.9" font-size="8" text-anchor="end" fill="#1c1c1c" stroke="#1c1c1c" stroke-width="0.22" >Only <tspan font-style="italic">SOX9</tspan></text>
<rect x="193.50" y="217.20" width="8.00" height="10.30" fill="#80a18d" stroke="none" stroke-width="0.8" />
<text x="208.9" y="224.7" font-size="7" text-anchor="middle" fill="#1c1c1c" stroke="#1c1c1c" stroke-width="0.22" >25</text>
<text x="223.8" y="224.7" font-size="7" text-anchor="middle" fill="#1c1c1c" stroke="#1c1c1c" stroke-width="0.22" >0</text>
<text x="238.95" y="224.7" font-size="7" text-anchor="middle" fill="#1c1c1c" stroke="#1c1c1c" stroke-width="0.22" >2</text>
<text x="254.55" y="224.7" font-size="7" text-anchor="middle" fill="#1c1c1c" stroke="#1c1c1c" stroke-width="0.22" >9</text>
<text x="270.0" y="224.7" font-size="7" text-anchor="middle" fill="#1c1c1c" stroke="#1c1c1c" stroke-width="0.22" >3</text>
<text x="285.15" y="224.7" font-size="7" text-anchor="middle" fill="#1c1c1c" stroke="#1c1c1c" stroke-width="0.22" >13</text>
<text x="300.65" y="224.7" font-size="7" text-anchor="middle" fill="#1c1c1c" stroke="#1c1c1c" stroke-width="0.22" >80</text>
<line x1="193.1" y1="185.6" x2="308.9" y2="185.6" stroke="#3c3c3c" stroke-width="0.85" />
<line x1="193.1" y1="196.2" x2="308.9" y2="196.2" stroke="#3c3c3c" stroke-width="0.85" />
<line x1="193.1" y1="206.9" x2="308.9" y2="206.9" stroke="#3c3c3c" stroke-width="0.85" />
<line x1="193.1" y1="217.2" x2="308.9" y2="217.2" stroke="#3c3c3c" stroke-width="0.85" />
<line x1="193.1" y1="227.5" x2="308.9" y2="227.5" stroke="#3c3c3c" stroke-width="0.85" />
<line x1="193.5" y1="185.6" x2="193.5" y2="227.5" stroke="#3c3c3c" stroke-width="0.85" />
<line x1="201.5" y1="185.6" x2="201.5" y2="227.5" stroke="#3c3c3c" stroke-width="0.85" />
<line x1="216.3" y1="185.6" x2="216.3" y2="227.5" stroke="#3c3c3c" stroke-width="0.85" />
<line x1="231.3" y1="185.6" x2="231.3" y2="227.5" stroke="#3c3c3c" stroke-width="0.85" />
<line x1="246.6" y1="185.6" x2="246.6" y2="227.5" stroke="#3c3c3c" stroke-width="0.85" />
<line x1="262.5" y1="185.6" x2="262.5" y2="227.5" stroke="#3c3c3c" stroke-width="0.85" />
<line x1="277.5" y1="185.6" x2="277.5" y2="227.5" stroke="#3c3c3c" stroke-width="0.85" />
<line x1="292.8" y1="185.6" x2="292.8" y2="227.5" stroke="#3c3c3c" stroke-width="0.85" />
<line x1="308.5" y1="185.6" x2="308.5" y2="227.5" stroke="#3c3c3c" stroke-width="0.85" />
<rect x="201.10" y="323.28" width="15.60" height="5.52" fill="#80a18d" stroke="#333a48" stroke-width="0.55" />
<rect x="201.10" y="313.58" width="15.60" height="9.71" fill="#f6a821" stroke="#333a48" stroke-width="0.55" />
<rect x="201.10" y="261.06" width="15.60" height="52.51" fill="#5e82b2" stroke="#333a48" stroke-width="0.55" />
<rect x="201.10" y="233.70" width="15.60" height="27.36" fill="#fff" stroke="#333a48" stroke-width="0.55" />
<text x="213.99999999999997" y="334.6" font-size="7.5" text-anchor="end" fill="#1c1c1c" stroke="#1c1c1c" stroke-width="0.22" transform="rotate(-45 213.99999999999997 334.6)" >MUV11</text>
<rect x="216.70" y="314.85" width="15.30" height="13.95" fill="#f6a821" stroke="#333a48" stroke-width="0.55" />
<rect x="216.70" y="237.69" width="15.30" height="77.16" fill="#5e82b2" stroke="#333a48" stroke-width="0.55" />
<rect x="216.70" y="233.70" width="15.30" height="3.99" fill="#fff" stroke="#333a48" stroke-width="0.55" />
<text x="229.45" y="334.6" font-size="7.5" text-anchor="end" fill="#1c1c1c" stroke="#1c1c1c" stroke-width="0.22" transform="rotate(-45 229.45 334.6)" >SJ17</text>
<rect x="232.00" y="328.23" width="15.30" height="0.57" fill="#80a18d" stroke="#333a48" stroke-width="0.55" />
<rect x="232.00" y="326.80" width="15.30" height="1.43" fill="#f6a821" stroke="#333a48" stroke-width="0.55" />
<rect x="232.00" y="256.55" width="15.30" height="70.25" fill="#5e82b2" stroke="#333a48" stroke-width="0.55" />
<rect x="232.00" y="233.70" width="15.30" height="22.85" fill="#fff" stroke="#333a48" stroke-width="0.55" />
<text x="244.75" y="334.6" font-size="7.5" text-anchor="end" fill="#1c1c1c" stroke="#1c1c1c" stroke-width="0.22" transform="rotate(-45 244.75 334.6)" >SJ917</text>
<rect x="247.30" y="326.66" width="15.00" height="2.14" fill="#80a18d" stroke="#333a48" stroke-width="0.55" />
<rect x="247.30" y="317.86" width="15.00" height="8.80" fill="#f6a821" stroke="#333a48" stroke-width="0.55" />
<rect x="247.30" y="263.18" width="15.00" height="54.68" fill="#5e82b2" stroke="#333a48" stroke-width="0.55" />
<rect x="247.30" y="233.70" width="15.00" height="29.48" fill="#fff" stroke="#333a48" stroke-width="0.55" />
<text x="259.90000000000003" y="334.6" font-size="7.5" text-anchor="end" fill="#1c1c1c" stroke="#1c1c1c" stroke-width="0.22" transform="rotate(-45 259.90000000000003 334.6)" >SJ617</text>
<rect x="262.30" y="327.92" width="15.30" height="0.88" fill="#80a18d" stroke="#333a48" stroke-width="0.55" />
<rect x="262.30" y="325.88" width="15.30" height="2.04" fill="#f6a821" stroke="#333a48" stroke-width="0.55" />
<rect x="262.30" y="280.08" width="15.30" height="45.80" fill="#5e82b2" stroke="#333a48" stroke-width="0.55" />
<rect x="262.30" y="233.70" width="15.30" height="46.38" fill="#fff" stroke="#333a48" stroke-width="0.55" />
<text x="275.05000000000007" y="334.6" font-size="7.5" text-anchor="end" fill="#1c1c1c" stroke="#1c1c1c" stroke-width="0.22" transform="rotate(-45 275.05000000000007 334.6)" >BCH1205</text>
<rect x="277.60" y="324.59" width="15.00" height="4.21" fill="#80a18d" stroke="#333a48" stroke-width="0.55" />
<rect x="277.60" y="322.65" width="15.00" height="1.94" fill="#f6a821" stroke="#333a48" stroke-width="0.55" />
<rect x="277.60" y="298.39" width="15.00" height="24.26" fill="#5e82b2" stroke="#333a48" stroke-width="0.55" />
<rect x="277.60" y="233.70" width="15.00" height="64.69" fill="#fff" stroke="#333a48" stroke-width="0.55" />
<text x="290.20000000000005" y="334.6" font-size="7.5" text-anchor="end" fill="#1c1c1c" stroke="#1c1c1c" stroke-width="0.22" transform="rotate(-45 290.20000000000005 334.6)" >MUV34</text>
<rect x="292.60" y="305.75" width="15.30" height="23.05" fill="#80a18d" stroke="#333a48" stroke-width="0.55" />
<rect x="292.60" y="291.05" width="15.30" height="14.70" fill="#f6a821" stroke="#333a48" stroke-width="0.55" />
<rect x="292.60" y="263.38" width="15.30" height="27.67" fill="#5e82b2" stroke="#333a48" stroke-width="0.55" />
<rect x="292.60" y="233.70" width="15.30" height="29.68" fill="#fff" stroke="#333a48" stroke-width="0.55" />
<text x="305.35" y="334.6" font-size="7.5" text-anchor="end" fill="#1c1c1c" stroke="#1c1c1c" stroke-width="0.22" transform="rotate(-45 305.35 334.6)" >BCH825</text>
<line x1="200.4" y1="233.3" x2="200.4" y2="329.2" stroke="#333" stroke-width="0.9" />
<text x="197.8" y="331.6" font-size="8" text-anchor="end" fill="#1c1c1c" stroke="#1c1c1c" stroke-width="0.22" >0</text>
<line x1="198.5" y1="328.8" x2="200.4" y2="328.8" stroke="#333" stroke-width="0.7" />
<text x="197.8" y="312.58000000000004" font-size="8" text-anchor="end" fill="#1c1c1c" stroke="#1c1c1c" stroke-width="0.22" >20</text>
<line x1="198.5" y1="309.78000000000003" x2="200.4" y2="309.78000000000003" stroke="#333" stroke-width="0.7" />
<text x="197.8" y="293.56" font-size="8" text-anchor="end" fill="#1c1c1c" stroke="#1c1c1c" stroke-width="0.22" >40</text>
<line x1="198.5" y1="290.76" x2="200.4" y2="290.76" stroke="#333" stroke-width="0.7" />
<text x="197.8" y="274.54" font-size="8" text-anchor="end" fill="#1c1c1c" stroke="#1c1c1c" stroke-width="0.22" >60</text>
<line x1="198.5" y1="271.74" x2="200.4" y2="271.74" stroke="#333" stroke-width="0.7" />
<text x="197.8" y="255.52000000000004" font-size="8" text-anchor="end" fill="#1c1c1c" stroke="#1c1c1c" stroke-width="0.22" >80</text>
<line x1="198.5" y1="252.72000000000003" x2="200.4" y2="252.72000000000003" stroke="#333" stroke-width="0.7" />
<text x="197.8" y="236.50000000000003" font-size="8" text-anchor="end" fill="#1c1c1c" stroke="#1c1c1c" stroke-width="0.22" >100</text>
<line x1="198.5" y1="233.70000000000002" x2="200.4" y2="233.70000000000002" stroke="#333" stroke-width="0.7" />
<text x="183" y="279" font-size="8" text-anchor="middle" fill="#1c1c1c" stroke="#1c1c1c" stroke-width="0.22" transform="rotate(-90 183 279)" >% of cells</text>
<text x="350.5" y="182.5" font-size="12.5" font-weight="bold" fill="#0a0a0a" stroke="#0a0a0a" stroke-width="0.45">F</text>
<rect x="408.20" y="181.90" width="84.60" height="141.50" fill="#fff" stroke="#5c5c5c" stroke-width="1.05" />
<text x="404.5" y="326.2" font-size="8" text-anchor="end" fill="#1c1c1c" stroke="#1c1c1c" stroke-width="0.22" >0</text>
<line x1="406.2" y1="323.3" x2="408.2" y2="323.3" stroke="#555" stroke-width="0.7" />
<text x="404.5" y="302.63" font-size="8" text-anchor="end" fill="#1c1c1c" stroke="#1c1c1c" stroke-width="0.22" >1,000</text>
<line x1="406.2" y1="299.73" x2="408.2" y2="299.73" stroke="#555" stroke-width="0.7" />
<text x="404.5" y="279.06" font-size="8" text-anchor="end" fill="#1c1c1c" stroke="#1c1c1c" stroke-width="0.22" >2,000</text>
<line x1="406.2" y1="276.16" x2="408.2" y2="276.16" stroke="#555" stroke-width="0.7" />
<text x="404.5" y="255.49" font-size="8" text-anchor="end" fill="#1c1c1c" stroke="#1c1c1c" stroke-width="0.22" >3,000</text>
<line x1="406.2" y1="252.59" x2="408.2" y2="252.59" stroke="#555" stroke-width="0.7" />
<text x="404.5" y="231.92000000000002" font-size="8" text-anchor="end" fill="#1c1c1c" stroke="#1c1c1c" stroke-width="0.22" >4,000</text>
<line x1="406.2" y1="229.02" x2="408.2" y2="229.02" stroke="#555" stroke-width="0.7" />
<text x="404.5" y="208.35" font-size="8" text-anchor="end" fill="#1c1c1c" stroke="#1c1c1c" stroke-width="0.22" >5,000</text>
<line x1="406.2" y1="205.45" x2="408.2" y2="205.45" stroke="#555" stroke-width="0.7" />
<text x="404.5" y="184.78" font-size="8" text-anchor="end" fill="#1c1c1c" stroke="#1c1c1c" stroke-width="0.22" >6,000</text>
<line x1="406.2" y1="181.88" x2="408.2" y2="181.88" stroke="#555" stroke-width="0.7" />
<text x="366.4" y="247" font-size="7.85" text-anchor="middle" fill="#1c1c1c" stroke="#1c1c1c" stroke-width="0.22" transform="rotate(-90 366.4 247)" >ssGSEA enrichment score</text>
<text x="377.6" y="247.2" font-size="7.85" text-anchor="middle" fill="#1c1c1c" stroke="#1c1c1c" stroke-width="0.22" transform="rotate(-90 377.6 247.2)" >(qNSC signature - Codega 2014)</text>
<text x="451" y="189.3" font-size="6.5" text-anchor="middle" fill="#1c1c1c" stroke="#1c1c1c" stroke-width="0.22" ><tspan font-style="italic">P</tspan> = 1.4e–20</text>
<line x1="434.2" y1="231.2" x2="434.2" y2="255.4" stroke="#5a84b8" stroke-width="0.6839999999999999" />
<line x1="434.2" y1="271.4" x2="434.2" y2="294.2" stroke="#5a84b8" stroke-width="0.6839999999999999" />
<line x1="427.3" y1="231.2" x2="440.8" y2="231.2" stroke="#5a84b8" stroke-width="0.6839999999999999" />
<line x1="427.3" y1="294.2" x2="440.8" y2="294.2" stroke="#5a84b8" stroke-width="0.6839999999999999" />
<rect x="420.50" y="255.40" width="27.10" height="16.00" fill="#fff" stroke="#5a84b8" stroke-width="0.95" />
<line x1="420.5" y1="264" x2="447.6" y2="264" stroke="#5a84b8" stroke-width="0.8075" />
<line x1="434.2" y1="224.8" x2="434.2" y2="231.2" stroke="#5a84b8" stroke-width="1.6" />
<line x1="434.2" y1="294.2" x2="434.2" y2="298" stroke="#5a84b8" stroke-width="1.6" />
<circle cx="434.2" cy="219" r="0.9" fill="#5a84b8"/>
<line x1="467.3" y1="217.5" x2="467.3" y2="240.4" stroke="#7f9f8f" stroke-width="0.6839999999999999" />
<line x1="467.3" y1="259" x2="467.3" y2="280.7" stroke="#7f9f8f" stroke-width="0.6839999999999999" />
<line x1="460.6" y1="217.5" x2="474" y2="217.5" stroke="#7f9f8f" stroke-width="0.6839999999999999" />
<line x1="460.6" y1="280.7" x2="474" y2="280.7" stroke="#7f9f8f" stroke-width="0.6839999999999999" />
<rect x="453.70" y="240.40" width="27.20" height="18.60" fill="#fff" stroke="#7f9f8f" stroke-width="0.95" />
<line x1="453.7" y1="248.3" x2="480.9" y2="248.3" stroke="#7f9f8f" stroke-width="0.8075" />
<circle cx="467.3" cy="196" r="0.9" fill="#7f9f8f"/>
<circle cx="467.3" cy="200.8" r="0.9" fill="#7f9f8f"/>
<circle cx="467.3" cy="211" r="0.9" fill="#7f9f8f"/>
<circle cx="467.3" cy="286.9" r="0.9" fill="#7f9f8f"/>
<line x1="434" y1="323.4" x2="434" y2="325.6" stroke="#555" stroke-width="0.7" />
<line x1="467.2" y1="323.4" x2="467.2" y2="325.6" stroke="#555" stroke-width="0.7" />
<text x="433.5" y="334.3" font-size="8" text-anchor="middle" fill="#1c1c1c" stroke="#1c1c1c" stroke-width="0.22" >Only</text>
<text x="433.8" y="345.5" font-size="8" text-anchor="middle" fill="#1c1c1c" stroke="#1c1c1c" stroke-width="0.22" ><tspan font-style="italic">MYC</tspan></text>
<text x="465.8" y="334.3" font-size="8" text-anchor="middle" fill="#1c1c1c" stroke="#1c1c1c" stroke-width="0.22" >Only</text>
<text x="466.5" y="345.5" font-size="8" text-anchor="middle" fill="#1c1c1c" stroke="#1c1c1c" stroke-width="0.22" ><tspan font-style="italic">SOX9</tspan></text>
<text x="2.2" y="391" font-size="12.5" font-weight="bold" fill="#0a0a0a" stroke="#0a0a0a" stroke-width="0.45">G</text>
<text x="74.4" y="390.5" font-size="7.7" text-anchor="middle" fill="#1c1c1c" stroke="#1c1c1c" stroke-width="0.22" >+Dox</text>
<text x="54.9" y="400.6" font-size="7.7" text-anchor="middle" fill="#1c1c1c" stroke="#1c1c1c" stroke-width="0.22" >8 h</text>
<text x="98" y="400.7" font-size="7.7" text-anchor="middle" fill="#1c1c1c" stroke="#1c1c1c" stroke-width="0.22" >24 h</text>
<line x1="33.5" y1="403.4" x2="73.1" y2="403.4" stroke="#222" stroke-width="0.7" />
<line x1="77.2" y1="403.4" x2="117.3" y2="403.4" stroke="#222" stroke-width="0.7" />
<clipPath id="cG1"><rect x="29.75" y="407.75" width="91.50" height="17.65"/></clipPath>
<rect x="29.75" y="407.75" width="91.50" height="17.65" fill="#e6e6e6" stroke="none" stroke-width="0.8" />
<g clip-path="url(#cG1)">
<rect x="48.1" y="413.0" width="12.9" height="7.6" rx="2.5" fill="#111" opacity="0.55" filter="url(#b2)"/>
<rect x="48.6" y="413.2" width="11.4" height="2.1" rx="1.1" fill="#111" opacity="0.45" filter="url(#b1)"/>
<rect x="48.6" y="416.8" width="11.4" height="2.0" rx="1.0" fill="#111" opacity="0.4" filter="url(#b1)"/>
<rect x="62.5" y="410.8" width="13.1" height="12.6" rx="2.5" fill="#111" opacity="0.95" filter="url(#b1)"/>
<rect x="63.3" y="411.6" width="11.7" height="11.0" rx="2.5" fill="#111" opacity="0.95" filter="url(#b1)"/>
<rect x="91.2" y="410.6" width="13.6" height="12.8" rx="2.5" fill="#111" opacity="0.95" filter="url(#b1)"/>
<rect x="92.2" y="411.6" width="11.8" height="11.0" rx="2.5" fill="#111" opacity="0.9" filter="url(#b1)"/>
<rect x="104.9" y="410.2" width="14.9" height="13.2" rx="2.5" fill="#111" opacity="0.95" filter="url(#b1)"/>
<rect x="106.0" y="411.2" width="13.0" height="11.4" rx="2.5" fill="#111" opacity="0.9" filter="url(#b1)"/>
</g>
<rect x="29.75" y="407.75" width="91.50" height="17.65" fill="none" stroke="#444" stroke-width="0.7" />
<clipPath id="cG2"><rect x="29.75" y="428.4" width="91.50" height="15.60"/></clipPath>
<rect x="29.75" y="428.40" width="91.50" height="15.60" fill="#dfdfdf" stroke="none" stroke-width="0.8" />
<g clip-path="url(#cG2)">
<rect x="30.4" y="431.7" width="13.6" height="8.0" rx="2.5" fill="#111" opacity="0.95" filter="url(#b1)"/>
<rect x="31.0" y="432.5" width="12.2" height="6.5" rx="2.5" fill="#111" opacity="0.75" filter="url(#b1)"/>
<rect x="46.6" y="433.2" width="12.4" height="6.9" rx="2.5" fill="#111" opacity="0.85" filter="url(#b1)"/>
<rect x="47.5" y="434.0" width="10.5" height="5.5" rx="2.5" fill="#111" opacity="0.3" filter="url(#b1)"/>
<rect x="62.0" y="436.2" width="11.0" height="4.2" rx="2.1" fill="#111" opacity="0.45" filter="url(#b2)"/>
<rect x="76.3" y="434.2" width="13.3" height="7.3" rx="2.5" fill="#111" opacity="0.95" filter="url(#b1)"/>
<rect x="77.2" y="435.0" width="11.6" height="5.8" rx="2.5" fill="#111" opacity="0.75" filter="url(#b1)"/>
<rect x="91.5" y="437.4" width="11.5" height="3.2" rx="1.6" fill="#111" opacity="0.13" filter="url(#b2)"/>
<rect x="107.0" y="438.2" width="11.0" height="2.4" rx="1.2" fill="#111" opacity="0.05" filter="url(#b2)"/>
</g>
<rect x="29.75" y="428.40" width="91.50" height="15.60" fill="none" stroke="#444" stroke-width="0.7" />
<clipPath id="cG3"><rect x="29.75" y="446.25" width="91.50" height="17.50"/></clipPath>
<rect x="29.75" y="446.25" width="91.50" height="17.50" fill="#ececec" stroke="none" stroke-width="0.8" />
<g clip-path="url(#cG3)">
<rect x="31.2" y="452.5" width="12.0" height="2.8" rx="1.4" fill="#111" opacity="0.5" filter="url(#b1)"/>
<rect x="46.9" y="453.4" width="11.9" height="3.5" rx="1.8" fill="#111" opacity="0.7" filter="url(#b1)"/>
<rect x="62.0" y="453.3" width="12.5" height="4.0" rx="2.0" fill="#111" opacity="0.75" filter="url(#b1)"/>
<rect x="62.5" y="447.0" width="12.0" height="16.5" rx="2.5" fill="#111" opacity="0.12" filter="url(#b2)"/>
<rect x="77.0" y="455.0" width="11.8" height="2.9" rx="1.4" fill="#111" opacity="0.7" filter="url(#b1)"/>
<rect x="91.5" y="454.5" width="12.3" height="3.4" rx="1.7" fill="#111" opacity="0.75" filter="url(#b1)"/>
<rect x="106.0" y="453.8" width="13.3" height="3.5" rx="1.8" fill="#111" opacity="0.8" filter="url(#b1)"/>
</g>
<rect x="29.75" y="446.25" width="91.50" height="17.50" fill="none" stroke="#444" stroke-width="0.7" />
<text x="5.6" y="419" font-size="7.7" text-anchor="start" fill="#1c1c1c" stroke="#1c1c1c" stroke-width="0.22" >SOX9</text>
<text x="6.2" y="438.7" font-size="7.7" text-anchor="start" fill="#1c1c1c" stroke="#1c1c1c" stroke-width="0.22" >cMYC</text>
<text x="1" y="457.5" font-size="7.5" text-anchor="start" fill="#1c1c1c" stroke="#1c1c1c" stroke-width="0.22" >GAPDH</text>
<text x="40" y="471.3" font-size="7.4" text-anchor="end" fill="#1c1c1c" stroke="#1c1c1c" stroke-width="0.22" transform="rotate(-45 40 471.3)" >EV</text>
<text x="53.6" y="472.3" font-size="7.4" text-anchor="end" fill="#1c1c1c" stroke="#1c1c1c" stroke-width="0.22" transform="rotate(-45 53.6 472.3)" >Sox9WT</text>
<text x="69.3" y="473.2" font-size="7.4" text-anchor="end" fill="#1c1c1c" stroke="#1c1c1c" stroke-width="0.22" transform="rotate(-45 69.3 473.2)" >SOX9CPDmt</text>
<text x="89" y="471.3" font-size="7.4" text-anchor="end" fill="#1c1c1c" stroke="#1c1c1c" stroke-width="0.22" transform="rotate(-45 89 471.3)" >EV</text>
<text x="102.2" y="472.3" font-size="7.4" text-anchor="end" fill="#1c1c1c" stroke="#1c1c1c" stroke-width="0.22" transform="rotate(-45 102.2 472.3)" >Sox9WT</text>
<text x="118.6" y="473.2" font-size="7.4" text-anchor="end" fill="#1c1c1c" stroke="#1c1c1c" stroke-width="0.22" transform="rotate(-45 118.6 473.2)" >SOX9CPDmt</text>
<text x="151.4" y="390.8" font-size="12.5" font-weight="bold" fill="#0a0a0a" stroke="#0a0a0a" stroke-width="0.45">H</text>
<text x="248.6" y="401.8" font-size="7.85" text-anchor="middle" fill="#1c1c1c" stroke="#1c1c1c" stroke-width="0.22" >Hours post-Dox removal</text>
<line x1="211.2" y1="406.1" x2="287.6" y2="406.1" stroke="#222" stroke-width="0.7" />
<text x="177.8" y="418.7" font-size="8" text-anchor="middle" fill="#1c1c1c" stroke="#1c1c1c" stroke-width="0.22" >-Dox</text>
<text x="199.8" y="418.7" font-size="8" text-anchor="middle" fill="#1c1c1c" stroke="#1c1c1c" stroke-width="0.22" >+Dox</text>
<text x="219.9" y="418.7" font-size="8" text-anchor="middle" fill="#1c1c1c" stroke="#1c1c1c" stroke-width="0.22" >8</text>
<text x="239.2" y="418.7" font-size="8" text-anchor="middle" fill="#1c1c1c" stroke="#1c1c1c" stroke-width="0.22" >24</text>
<text x="258.7" y="418.7" font-size="8" text-anchor="middle" fill="#1c1c1c" stroke="#1c1c1c" stroke-width="0.22" >48</text>
<text x="278.8" y="418.7" font-size="8" text-anchor="middle" fill="#1c1c1c" stroke="#1c1c1c" stroke-width="0.22" >72</text>
<clipPath id="cH1"><rect x="170.4" y="421.2" width="119.50" height="14.10"/></clipPath>
<rect x="170.40" y="421.20" width="119.50" height="14.10" fill="#f3f3f3" stroke="none" stroke-width="0.8" />
<g clip-path="url(#cH1)">
<rect x="192.0" y="424.0" width="16.6" height="9.6" rx="2.5" fill="#111" opacity="1" filter="url(#b1)"/>
<rect x="192.6" y="424.5" width="15.4" height="8.5" rx="2.5" fill="#111" opacity="1" filter="url(#b1)"/>
<rect x="211.2" y="423.6" width="17.3" height="7.8" rx="2.5" fill="#111" opacity="1" filter="url(#b1)"/>
<rect x="211.8" y="424.2" width="16.2" height="6.4" rx="2.5" fill="#111" opacity="1" filter="url(#b1)"/>
<rect x="212.5" y="428.5" width="15.5" height="6.1" rx="2.5" fill="#111" opacity="0.5" filter="url(#b2)"/>
<rect x="231.2" y="424.3" width="16.5" height="3.7" rx="1.8" fill="#111" opacity="0.9" filter="url(#b1)"/>
<rect x="232.5" y="426.5" width="14.5" height="7.5" rx="2.5" fill="#111" opacity="0.25" filter="url(#b2)"/>
<rect x="251.2" y="424.6" width="16.1" height="2.6" rx="1.3" fill="#111" opacity="0.45" filter="url(#b1)"/>
<rect x="252.5" y="426.5" width="14.0" height="5.5" rx="2.5" fill="#111" opacity="0.08" filter="url(#b2)"/>
<rect x="271.8" y="424.5" width="16.2" height="2.3" rx="1.2" fill="#111" opacity="0.3" filter="url(#b1)"/>
</g>
<rect x="170.40" y="421.20" width="119.50" height="14.10" fill="none" stroke="#444" stroke-width="0.7" />
<clipPath id="cH2"><rect x="170.4" y="437.4" width="119.50" height="11.70"/></clipPath>
<rect x="170.40" y="437.40" width="119.50" height="11.70" fill="#f1f1f1" stroke="none" stroke-width="0.8" />
<g clip-path="url(#cH2)">
<rect x="171.6" y="439.9" width="18.1" height="6.0" rx="2.5" fill="#111" opacity="1" filter="url(#b1)"/>
<rect x="172.3" y="440.5" width="16.7" height="4.8" rx="2.4" fill="#111" opacity="0.9" filter="url(#b1)"/>
<rect x="193.0" y="442.0" width="15.0" height="2.9" rx="1.4" fill="#111" opacity="0.5" filter="url(#b1)"/>
<rect x="213.0" y="442.2" width="15.0" height="3.3" rx="1.7" fill="#111" opacity="0.72" filter="url(#b1)"/>
<rect x="232.7" y="443.0" width="15.0" height="3.7" rx="1.8" fill="#111" opacity="0.92" filter="url(#b1)"/>
<rect x="233.5" y="440.5" width="13.5" height="3.5" rx="1.8" fill="#111" opacity="0.12" filter="url(#b2)"/>
<rect x="252.4" y="443.0" width="15.3" height="3.7" rx="1.8" fill="#111" opacity="0.95" filter="url(#b1)"/>
<rect x="253.5" y="440.5" width="13.5" height="3.5" rx="1.8" fill="#111" opacity="0.12" filter="url(#b2)"/>
<rect x="272.4" y="443.0" width="16.2" height="3.7" rx="1.8" fill="#111" opacity="0.95" filter="url(#b1)"/>
<rect x="273.5" y="440.5" width="14.5" height="3.5" rx="1.8" fill="#111" opacity="0.12" filter="url(#b2)"/>
</g>
<rect x="170.40" y="437.40" width="119.50" height="11.70" fill="none" stroke="#444" stroke-width="0.7" />
<clipPath id="cH3"><rect x="170.4" y="451.3" width="119.50" height="12.90"/></clipPath>
<rect x="170.40" y="451.30" width="119.50" height="12.90" fill="#f4f4f4" stroke="none" stroke-width="0.8" />
<g clip-path="url(#cH3)">
<rect x="172.2" y="457.2" width="18.2" height="3.6" rx="1.8" fill="#111" opacity="1" filter="url(#b0)"/>
<rect x="173.2" y="457.6" width="16.2" height="2.9" rx="1.5" fill="#111" opacity="0.9" filter="url(#b0)"/>
<rect x="192.9" y="457.0" width="16.2" height="3.1" rx="1.6" fill="#111" opacity="1" filter="url(#b0)"/>
<rect x="193.9" y="457.4" width="14.2" height="2.4" rx="1.2" fill="#111" opacity="0.9" filter="url(#b0)"/>
<rect x="211.6" y="456.2" width="16.3" height="3.4" rx="1.7" fill="#111" opacity="1" filter="url(#b0)"/>
<rect x="212.6" y="456.6" width="14.3" height="2.7" rx="1.4" fill="#111" opacity="0.9" filter="url(#b0)"/>
<rect x="230.5" y="455.8" width="16.9" height="3.8" rx="1.9" fill="#111" opacity="1" filter="url(#b0)"/>
<rect x="231.5" y="456.2" width="14.9" height="3.1" rx="1.6" fill="#111" opacity="0.9" filter="url(#b0)"/>
<rect x="249.0" y="455.8" width="18.4" height="3.8" rx="1.9" fill="#111" opacity="1" filter="url(#b0)"/>
<rect x="250.0" y="456.2" width="16.4" height="3.1" rx="1.6" fill="#111" opacity="0.9" filter="url(#b0)"/>
<rect x="269.0" y="455.1" width="18.4" height="4.1" rx="2.0" fill="#111" opacity="1" filter="url(#b0)"/>
<rect x="270.0" y="455.5" width="16.4" height="3.4" rx="1.7" fill="#111" opacity="0.9" filter="url(#b0)"/>
</g>
<rect x="170.40" y="451.30" width="119.50" height="12.90" fill="none" stroke="#444" stroke-width="0.7" />
<text x="146" y="431" font-size="8" text-anchor="start" fill="#1c1c1c" stroke="#1c1c1c" stroke-width="0.22" >SOX9</text>
<text x="146" y="444.9" font-size="8" text-anchor="start" fill="#1c1c1c" stroke="#1c1c1c" stroke-width="0.22" >cMYC</text>
<text x="146.8" y="458.5" font-size="8" text-anchor="start" fill="#1c1c1c" stroke="#1c1c1c" stroke-width="0.22" >CypB</text>
<text x="315" y="380" font-size="12.5" font-weight="bold" fill="#0a0a0a" stroke="#0a0a0a" stroke-width="0.45">I</text>
<line x1="343.7" y1="382" x2="343.7" y2="474.6" stroke="#333" stroke-width="0.9" />
<line x1="343.3" y1="474.3" x2="482" y2="474.3" stroke="#333" stroke-width="0.9" />
<text x="338.8" y="477.2" font-size="8" text-anchor="end" fill="#1c1c1c" stroke="#1c1c1c" stroke-width="0.22" >0</text>
<line x1="341.6" y1="474.4" x2="343.7" y2="474.4" stroke="#333" stroke-width="0.7" />
<text x="338.8" y="458.78" font-size="8" text-anchor="end" fill="#1c1c1c" stroke="#1c1c1c" stroke-width="0.22" >20</text>
<line x1="341.6" y1="455.97999999999996" x2="343.7" y2="455.97999999999996" stroke="#333" stroke-width="0.7" />
<text x="338.8" y="440.35999999999996" font-size="8" text-anchor="end" fill="#1c1c1c" stroke="#1c1c1c" stroke-width="0.22" >40</text>
<line x1="341.6" y1="437.55999999999995" x2="343.7" y2="437.55999999999995" stroke="#333" stroke-width="0.7" />
<text x="338.8" y="421.94" font-size="8" text-anchor="end" fill="#1c1c1c" stroke="#1c1c1c" stroke-width="0.22" >60</text>
<line x1="341.6" y1="419.14" x2="343.7" y2="419.14" stroke="#333" stroke-width="0.7" />
<text x="338.8" y="403.52" font-size="8" text-anchor="end" fill="#1c1c1c" stroke="#1c1c1c" stroke-width="0.22" >80</text>
<line x1="341.6" y1="400.71999999999997" x2="343.7" y2="400.71999999999997" stroke="#333" stroke-width="0.7" />
<text x="338.8" y="385.09999999999997" font-size="8" text-anchor="end" fill="#1c1c1c" stroke="#1c1c1c" stroke-width="0.22" >100</text>
<line x1="341.6" y1="382.29999999999995" x2="343.7" y2="382.29999999999995" stroke="#333" stroke-width="0.7" />
<text x="321" y="422.5" font-size="8" text-anchor="middle" fill="#1c1c1c" stroke="#1c1c1c" stroke-width="0.22" transform="rotate(-90 321 422.5)" >% of cells</text>
<rect x="349.30" y="382.30" width="10.80" height="92.10" fill="#a9a8a8" stroke="none" stroke-width="0.8" />
<rect x="349.30" y="383.68" width="10.80" height="90.72" fill="#a5d49c" stroke="none" stroke-width="0.8" />
<rect x="349.30" y="406.25" width="10.80" height="68.15" fill="#46a146" stroke="none" stroke-width="0.8" />
<text x="354.7" y="482" font-size="6.1" text-anchor="middle" fill="#1c1c1c" stroke="#1c1c1c" stroke-width="0.22" >0</text>
<text x="354.7" y="488.6" font-size="6.1" text-anchor="middle" fill="#1c1c1c" stroke="#1c1c1c" stroke-width="0.22" >hour</text>
<rect x="365.90" y="382.30" width="10.80" height="92.10" fill="#a9a8a8" stroke="none" stroke-width="0.8" />
<rect x="365.90" y="411.77" width="10.80" height="62.63" fill="#a5d49c" stroke="none" stroke-width="0.8" />
<rect x="365.90" y="457.09" width="10.80" height="17.31" fill="#46a146" stroke="none" stroke-width="0.8" />
<text x="371.29999999999995" y="482" font-size="6.1" text-anchor="middle" fill="#1c1c1c" stroke="#1c1c1c" stroke-width="0.22" >48</text>
<text x="371.29999999999995" y="488.6" font-size="6.1" text-anchor="middle" fill="#1c1c1c" stroke="#1c1c1c" stroke-width="0.22" >hours</text>
<rect x="382.50" y="382.30" width="10.80" height="92.10" fill="#a9a8a8" stroke="none" stroke-width="0.8" />
<rect x="382.50" y="426.05" width="10.80" height="48.35" fill="#a5d49c" stroke="none" stroke-width="0.8" />
<rect x="382.50" y="460.12" width="10.80" height="14.28" fill="#46a146" stroke="none" stroke-width="0.8" />
<text x="387.9" y="482" font-size="6.1" text-anchor="middle" fill="#1c1c1c" stroke="#1c1c1c" stroke-width="0.22" >1</text>
<text x="387.9" y="488.6" font-size="6.1" text-anchor="middle" fill="#1c1c1c" stroke="#1c1c1c" stroke-width="0.22" >week</text>
<rect x="399.10" y="382.30" width="10.80" height="92.10" fill="#a9a8a8" stroke="none" stroke-width="0.8" />
<rect x="399.10" y="433.88" width="10.80" height="40.52" fill="#a5d49c" stroke="none" stroke-width="0.8" />
<rect x="399.10" y="462.89" width="10.80" height="11.51" fill="#46a146" stroke="none" stroke-width="0.8" />
<text x="404.5" y="482" font-size="6.1" text-anchor="middle" fill="#1c1c1c" stroke="#1c1c1c" stroke-width="0.22" >3</text>
<text x="404.5" y="488.6" font-size="6.1" text-anchor="middle" fill="#1c1c1c" stroke="#1c1c1c" stroke-width="0.22" >weeks</text>
<rect x="415.70" y="382.30" width="10.80" height="92.10" fill="#a9a8a8" stroke="none" stroke-width="0.8" />
<rect x="415.70" y="464.27" width="10.80" height="10.13" fill="#a5d49c" stroke="none" stroke-width="0.8" />
<rect x="415.70" y="473.94" width="10.80" height="0.46" fill="#46a146" stroke="none" stroke-width="0.8" />
<text x="421.09999999999997" y="482" font-size="6.1" text-anchor="middle" fill="#1c1c1c" stroke="#1c1c1c" stroke-width="0.22" >0</text>
<text x="421.09999999999997" y="488.6" font-size="6.1" text-anchor="middle" fill="#1c1c1c" stroke="#1c1c1c" stroke-width="0.22" >hour</text>
<rect x="432.30" y="382.30" width="10.80" height="92.10" fill="#a9a8a8" stroke="none" stroke-width="0.8" />
<rect x="432.30" y="468.23" width="10.80" height="6.17" fill="#a5d49c" stroke="none" stroke-width="0.8" />
<rect x="432.30" y="473.48" width="10.80" height="0.92" fill="#46a146" stroke="none" stroke-width="0.8" />
<text x="437.7" y="482" font-size="6.1" text-anchor="middle" fill="#1c1c1c" stroke="#1c1c1c" stroke-width="0.22" >48</text>
<text x="437.7" y="488.6" font-size="6.1" text-anchor="middle" fill="#1c1c1c" stroke="#1c1c1c" stroke-width="0.22" >hours</text>
<rect x="448.90" y="382.30" width="10.80" height="92.10" fill="#a9a8a8" stroke="none" stroke-width="0.8" />
<rect x="448.90" y="464.27" width="10.80" height="10.13" fill="#a5d49c" stroke="none" stroke-width="0.8" />
<rect x="448.90" y="473.02" width="10.80" height="1.38" fill="#46a146" stroke="none" stroke-width="0.8" />
<text x="454.29999999999995" y="482" font-size="6.1" text-anchor="middle" fill="#1c1c1c" stroke="#1c1c1c" stroke-width="0.22" >1</text>
<text x="454.29999999999995" y="488.6" font-size="6.1" text-anchor="middle" fill="#1c1c1c" stroke="#1c1c1c" stroke-width="0.22" >week</text>
<rect x="465.50" y="382.30" width="10.80" height="92.10" fill="#a9a8a8" stroke="none" stroke-width="0.8" />
<rect x="465.50" y="467.68" width="10.80" height="6.72" fill="#a5d49c" stroke="none" stroke-width="0.8" />
<rect x="465.50" y="473.02" width="10.80" height="1.38" fill="#46a146" stroke="none" stroke-width="0.8" />
<text x="470.9" y="482" font-size="6.1" text-anchor="middle" fill="#1c1c1c" stroke="#1c1c1c" stroke-width="0.22" >3</text>
<text x="470.9" y="488.6" font-size="6.1" text-anchor="middle" fill="#1c1c1c" stroke="#1c1c1c" stroke-width="0.22" >weeks</text>
<line x1="349.5" y1="492.2" x2="410.2" y2="492.2" stroke="#222" stroke-width="0.7" />
<line x1="417" y1="492.2" x2="476.5" y2="492.2" stroke="#222" stroke-width="0.7" />
<text x="378.5" y="501.2" font-size="8" text-anchor="middle" fill="#1c1c1c" stroke="#1c1c1c" stroke-width="0.22" >GFP positive</text>
<text x="378.5" y="510.4" font-size="8" text-anchor="middle" fill="#1c1c1c" stroke="#1c1c1c" stroke-width="0.22" >population</text>
<text x="445.5" y="501.2" font-size="8" text-anchor="middle" fill="#1c1c1c" stroke="#1c1c1c" stroke-width="0.22" >GFP negative</text>
<text x="445.5" y="510.4" font-size="8" text-anchor="middle" fill="#1c1c1c" stroke="#1c1c1c" stroke-width="0.22" >population</text>
<rect x="483.10" y="382.50" width="9.50" height="5.20" fill="#a9a8a8" stroke="none" stroke-width="0.8" />
<text x="496.6" y="387.7" font-size="7.5" text-anchor="start" fill="#1c1c1c" stroke="#1c1c1c" stroke-width="0.22" >GFP–</text>
<rect x="483.10" y="394.70" width="9.50" height="5.20" fill="#a5d49c" stroke="none" stroke-width="0.8" />
<text x="496.6" y="399.9" font-size="7.5" text-anchor="start" fill="#1c1c1c" stroke="#1c1c1c" stroke-width="0.22" >Interm.</text>
<rect x="483.10" y="407.10" width="9.50" height="5.20" fill="#46a146" stroke="none" stroke-width="0.8" />
<text x="496.6" y="412.3" font-size="7.5" text-anchor="start" fill="#1c1c1c" stroke="#1c1c1c" stroke-width="0.22" >GFP+</text>
</svg>
</body></html>
